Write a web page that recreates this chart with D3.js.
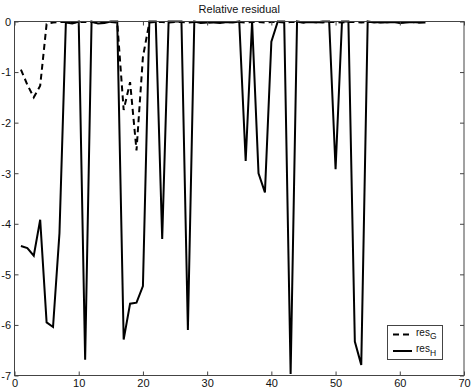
<!DOCTYPE html>
<html>
<head>
<meta charset="utf-8">
<script src="https://cdn.jsdelivr.net/npm/d3@7"></script>
<style>
  html, body { margin: 0; padding: 0; background: #fff; }
  svg { display: block; font-family: "Liberation Sans", Arial, sans-serif; }
</style>
</head>
<body>
<svg id="chart" width="474" height="389"></svg>
<script>
// ---- data ----
const title = "Relative residual";
const xTicks = [0, 10, 20, 30, 40, 50, 60, 70];
const yTicks = [0, -1, -2, -3, -4, -5, -6, -7];
const iterations = d3.range(1, 65);
const resH = [
  -4.44, -4.48, -4.63, -3.92, -5.95, -6.04, -4.19, -0.02, -0.04, 0.0,
  -6.69, 0.0, -0.04, -0.03, 0.0, 0.0, -6.29, -5.58, -5.56, -5.23,
  0.0, 0.0, -4.30, 0.0, 0.0, 0.0, -6.10, 0.0, -0.03, -0.02,
  -0.02, -0.03, -0.01, -0.02, 0.0, -2.76, 0.0, -3.00, -3.38, -0.40,
  0.0, 0.0, -6.97, 0.0, -0.02, -0.01, -0.02, 0.0, 0.0, -2.92,
  0.0, 0.0, -6.33, -6.79, 0.0, -0.02, -0.01, -0.02, -0.01, -0.03,
  -0.02, -0.01, -0.02, -0.02
];
const resG = [
  -0.95, -1.25, -1.50, -1.27, -0.05, -0.02, -0.01, -0.01, -0.02, -0.01,
  -0.01, -0.01, -0.02, -0.01, -0.01, -0.02, -1.75, -1.20, -2.55, -0.70,
  -0.02, -0.01, -0.01, -0.02, -0.01, -0.01, -0.02, -0.01, -0.01, -0.02,
  -0.01, -0.01, -0.02, -0.01, -0.01, -0.02, -0.01, -0.01, -0.02, -0.01,
  -0.01, -0.02, -0.01, -0.01, -0.02, -0.01, -0.01, -0.02, -0.01, -0.01,
  -0.02, -0.01, -0.01, -0.02, -0.01, -0.01, -0.02, -0.01, -0.01, -0.02,
  -0.01, -0.01, -0.02, -0.01
];
const seriesNames = ["res", "res"];
const seriesSubs = ["G", "H"];

// ---- layout ----
const svg = d3.select("#chart");
const L = 14.5, R = 464, T = 21.5, B = 375.5;
const x = d3.scaleLinear().domain([0, 70]).range([L, R]);
const y = d3.scaleLinear().domain([-7, 0]).range([B, T]);
const axisColor = "#444";

// lines
const line = d3.line().x((d, i) => x(iterations[i])).y(d => y(d));
svg.append("path").datum(resG)
  .attr("d", line).attr("fill", "none").attr("stroke", "#000")
  .attr("stroke-width", 2).attr("stroke-dasharray", "6,4");
svg.append("path").datum(resH)
  .attr("d", line).attr("fill", "none").attr("stroke", "#000")
  .attr("stroke-width", 2).attr("stroke-linejoin", "miter");

// box
svg.append("rect").attr("x", L).attr("y", T).attr("width", R - L).attr("height", B - T)
  .attr("fill", "none").attr("stroke", axisColor).attr("stroke-width", 1);

// axes (ticks inward)
const fontSize = 11;
const xAxisB = d3.axisBottom(x).tickValues(xTicks).tickSize(-4).tickPadding(4).tickFormat(d3.format("d"));
const gxb = svg.append("g").attr("transform", `translate(0,${B})`).call(xAxisB);
const xAxisT = d3.axisTop(x).tickValues(xTicks).tickSize(-4).tickFormat("");
const gxt = svg.append("g").attr("transform", `translate(0,${T})`).call(xAxisT);
const yAxisL = d3.axisLeft(y).tickValues(yTicks).tickSize(-4).tickPadding(8).tickFormat(d3.format("d"));
const gyl = svg.append("g").attr("transform", `translate(${L},0)`).call(yAxisL);
const yAxisR = d3.axisRight(y).tickValues(yTicks).tickSize(-4).tickFormat("");
const gyr = svg.append("g").attr("transform", `translate(${R},0)`).call(yAxisR);
[gxb, gxt, gyl, gyr].forEach(g => {
  g.select(".domain").remove();
  g.selectAll("line").attr("stroke", axisColor);
  g.selectAll("text").attr("fill", "#111").attr("font-size", fontSize)
    .attr("font-family", "Liberation Sans, Arial, sans-serif");
});
gyl.selectAll("text").text(d => d === 0 ? "0" : "-" + Math.abs(d)).attr("dy", "0.35em").attr("x", -3.5);
gxb.selectAll("text").attr("dy", "0.71em");

// title
svg.append("text").attr("x", (L + R) / 2).attr("y", 13).attr("text-anchor", "middle")
  .attr("font-size", fontSize).attr("fill", "#111").text(title);

// legend
const lg = svg.append("g");
lg.append("rect").attr("x", 387.5).attr("y", 325.5).attr("width", 55).attr("height", 34)
  .attr("fill", "#fff").attr("stroke", axisColor).attr("stroke-width", 1);
const dashes = ["6,4", null];
[0, 1].forEach(i => {
  const yy = 334.5 + i * 16.5;
  lg.append("line").attr("x1", 393).attr("x2", 412).attr("y1", yy).attr("y2", yy)
    .attr("stroke", "#000").attr("stroke-width", 2)
    .attr("stroke-dasharray", dashes[i]);
  const t = lg.append("text").attr("x", 416).attr("y", yy + 1).attr("font-size", 10).attr("fill", "#111");
  t.append("tspan").text(seriesNames[i]);
  t.append("tspan").attr("dy", 3.5).attr("font-size", 8.5).text(seriesSubs[i]);
});
</script>
</body>
</html>
